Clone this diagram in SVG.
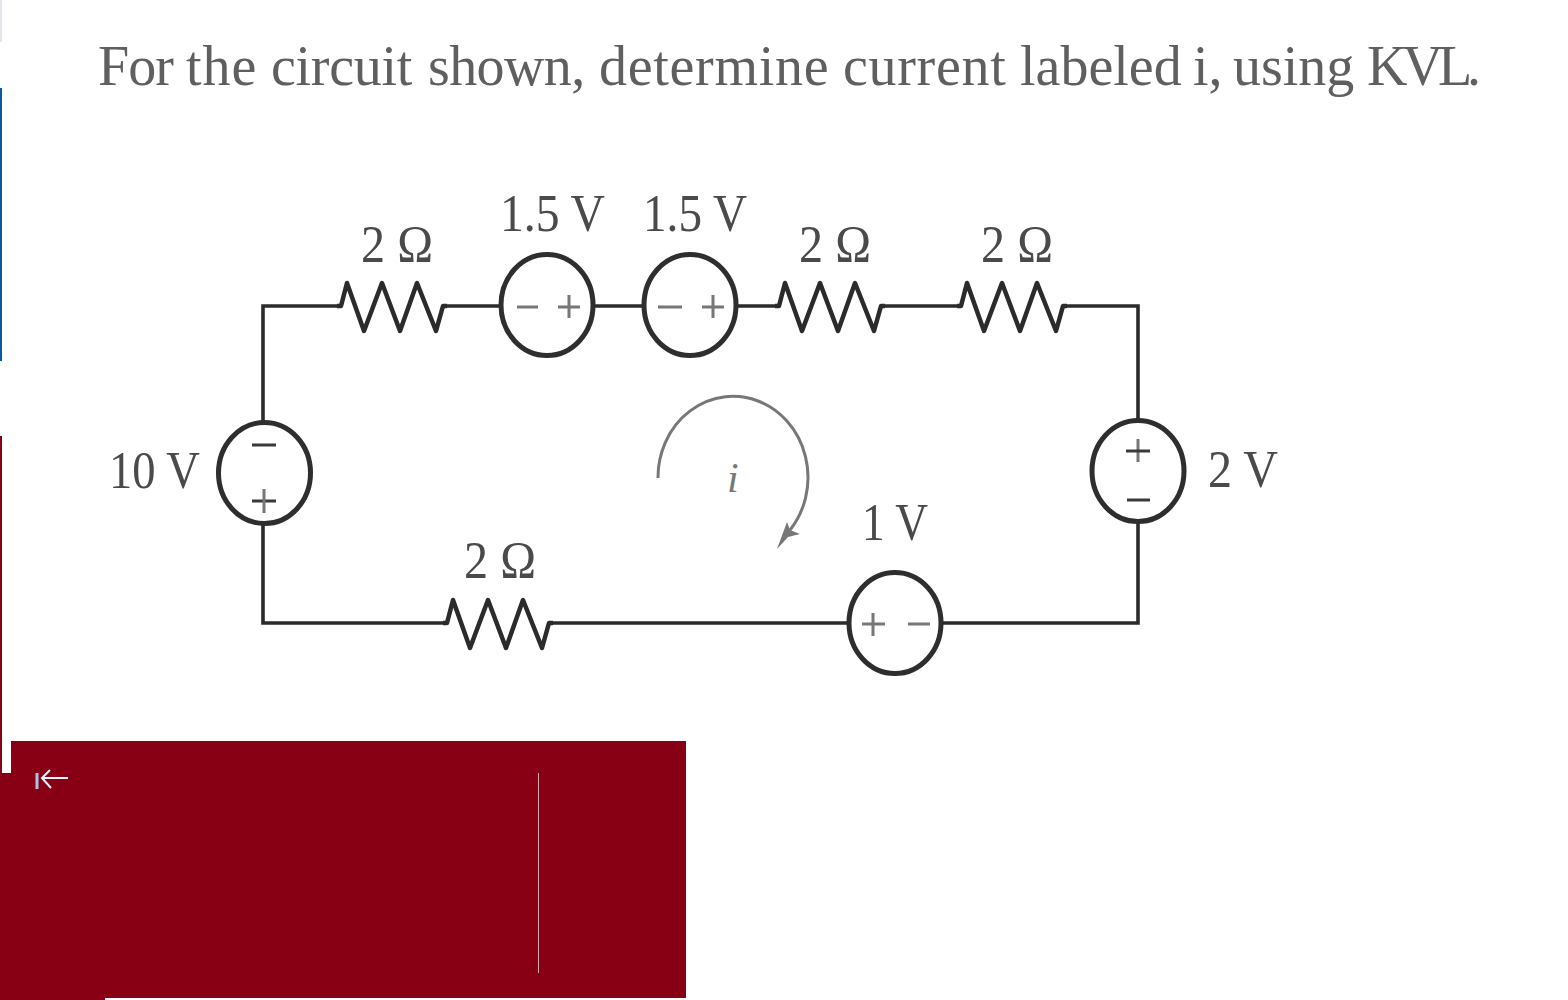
<svg xmlns="http://www.w3.org/2000/svg" width="1568" height="1000" viewBox="0 0 1568 1000">
<style>
text{font-family:"Liberation Serif","Times New Roman",serif;}
.title{font-size:56px;fill:#5f5f5f;}
.lab{font-size:52px;fill:#4a4a4a;}
.w{fill:none;stroke:#2b2b2b;stroke-width:3.6;stroke-linejoin:miter;}
.r{fill:none;stroke:#2b2b2b;stroke-width:4.5;stroke-linejoin:round;}
.c{fill:#fff;stroke:#2e2e2e;stroke-width:5;}
.s{fill:none;stroke:#777;stroke-width:3;}
.d{fill:none;stroke:#3a3a3a;stroke-width:3;}
</style>
<defs>
<path id="res" class="r" d="M0 0 L4 0 L10 -23 L27 25 L45 -23 L63 25 L80 -23 L99 25 L106 0 L110 0"/>
</defs>
<rect width="1568" height="1000" fill="#fff"/>
<g id="chrome">
<rect x="0" y="0" width="2" height="42" fill="#e2e6ec"/>
<rect x="0" y="88" width="2" height="273" fill="#0a58a4"/>
<rect x="0" y="436" width="2" height="337" fill="#870014"/>
<path d="M0 773H11V741H686V998H105V1000H0Z" fill="#870014"/>
<rect x="538" y="773" width="1" height="200" fill="#d9a8ae"/>
<path d="M37 773V789" stroke="#a9c6e6" stroke-width="3" fill="none"/>
<path d="M42 778H68M50 770L42 778L51 788" stroke="#eef4fb" stroke-width="2" fill="none"/>
</g>
<text class="title" y="85"><tspan x="98" letter-spacing="-1">For </tspan><tspan x="186" letter-spacing="1">the </tspan><tspan x="271" letter-spacing="-0.3">circuit </tspan><tspan x="428" letter-spacing="-0.6">shown, </tspan><tspan x="599" letter-spacing="0.7">determine </tspan><tspan x="843" letter-spacing="0.7">current </tspan><tspan x="1020">labeled </tspan><tspan x="1193">i, </tspan><tspan x="1233">using </tspan><tspan x="1367" letter-spacing="-5">KVL.</tspan></text>
<g id="connectors">
<path class="w" d="M263 421V306H337M445 306H500M594 306H643M736 306H775M885 306H957M1067 306H1138V419"/>
<path class="w" d="M1138 523V623H942M848 623H553M443 623H263V525"/>
<path class="s" stroke-width="2.6" d="M658 478A75 81 0 1 1 790 530"/>
<path d="M777 549L787 522L790 530L800 534L788 537Z" fill="#777"/>
</g>
<g id="r1"><use href="#res" x="337" y="306"/><text class="lab" x="361" y="262" textLength="72" lengthAdjust="spacingAndGlyphs">2 Ω</text></g>
<g id="r2"><use href="#res" x="775" y="306"/><text class="lab" x="799" y="262" textLength="72" lengthAdjust="spacingAndGlyphs">2 Ω</text></g>
<g id="r3"><use href="#res" x="957" y="306"/><text class="lab" x="981" y="262" textLength="72" lengthAdjust="spacingAndGlyphs">2 Ω</text></g>
<g id="r4"><use href="#res" x="443" y="623"/><text class="lab" x="464" y="578" textLength="72" lengthAdjust="spacingAndGlyphs">2 Ω</text></g>
<g id="v1"><ellipse class="c" cx="547" cy="305" rx="46" ry="50.5"/><path class="s" d="M517 307H538M558 307H580M569 295V318"/><text class="lab" x="500" y="231" textLength="105" lengthAdjust="spacingAndGlyphs">1.5 V</text></g>
<g id="v2"><ellipse class="c" cx="690" cy="305" rx="46" ry="50.5"/><path class="s" d="M658 307H682M702 307H724M713 295V318"/><text class="lab" x="643" y="231" textLength="104" lengthAdjust="spacingAndGlyphs">1.5 V</text></g>
<g id="v3"><ellipse class="c" cx="264.500" cy="473" rx="46" ry="50.5"/><path class="d" d="M252 445H276M252 501H276"/><path class="s" d="M264 489V513"/><text class="lab" x="109" y="488" textLength="91" lengthAdjust="spacingAndGlyphs">10 V</text></g>
<g id="v4"><ellipse class="c" cx="1138" cy="471" rx="46" ry="50.5"/><path class="s" d="M1138 439V462"/><path class="d" d="M1126 451H1150M1127 500H1150"/><text class="lab" x="1208" y="487" textLength="70" lengthAdjust="spacingAndGlyphs">2 V</text></g>
<g id="v5"><ellipse class="c" cx="895" cy="623" rx="46" ry="50.5"/><path class="s" d="M862 624H885M873 613V636M908 624H930"/><text class="lab" x="862" y="540" textLength="66" lengthAdjust="spacingAndGlyphs">1 V</text></g>
<g id="loop"><text x="727" y="492" font-size="42" font-style="italic" fill="#777">i</text></g>
</svg>
